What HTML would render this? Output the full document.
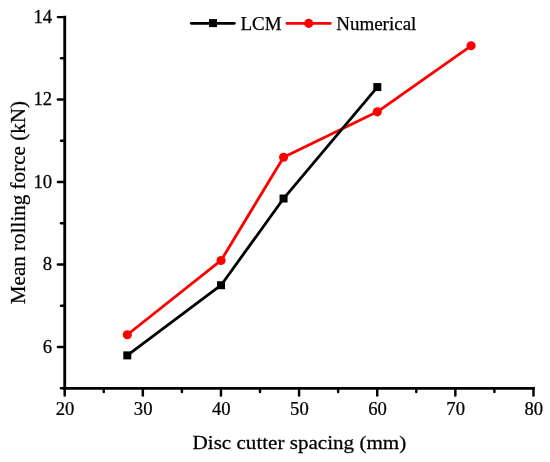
<!DOCTYPE html>
<html><head><meta charset="utf-8"><title>chart</title>
<style>
html,body{margin:0;padding:0;background:#fff;}
svg{display:block;}
text{font-family:"Liberation Serif","Times New Roman",serif;fill:#000;stroke:#000;stroke-width:0.25px;}
</style></head><body>
<svg width="550" height="462" viewBox="0 0 550 462">
<rect width="550" height="462" fill="#fff"/>

<g stroke="#000" stroke-width="2.85" fill="none" stroke-linecap="butt">
<line x1="64.72" y1="15.8" x2="64.72" y2="389.725"/>
<line x1="63.295" y1="388.3" x2="534.78" y2="388.3"/>
</g>
<g stroke="#000" stroke-width="2.45" fill="none" stroke-linecap="round">
<line x1="61.0" y1="388.31" x2="64.72" y2="388.31"/>
<line x1="57.9" y1="347.06" x2="64.72" y2="347.06"/>
<line x1="61.0" y1="305.81" x2="64.72" y2="305.81"/>
<line x1="57.9" y1="264.57" x2="64.72" y2="264.57"/>
<line x1="61.0" y1="223.32" x2="64.72" y2="223.32"/>
<line x1="57.9" y1="182.08" x2="64.72" y2="182.08"/>
<line x1="61.0" y1="140.83" x2="64.72" y2="140.83"/>
<line x1="57.9" y1="99.59" x2="64.72" y2="99.59"/>
<line x1="61.0" y1="58.34" x2="64.72" y2="58.34"/>
<line x1="57.9" y1="17.10" x2="64.72" y2="17.10"/>
<line x1="64.70" y1="388.3" x2="64.70" y2="395.55"/>
<line x1="103.77" y1="388.3" x2="103.77" y2="391.9"/>
<line x1="142.83" y1="388.3" x2="142.83" y2="395.55"/>
<line x1="181.89" y1="388.3" x2="181.89" y2="391.9"/>
<line x1="220.96" y1="388.3" x2="220.96" y2="395.55"/>
<line x1="260.02" y1="388.3" x2="260.02" y2="391.9"/>
<line x1="299.09" y1="388.3" x2="299.09" y2="395.55"/>
<line x1="338.15" y1="388.3" x2="338.15" y2="391.9"/>
<line x1="377.22" y1="388.3" x2="377.22" y2="395.55"/>
<line x1="416.28" y1="388.3" x2="416.28" y2="391.9"/>
<line x1="455.35" y1="388.3" x2="455.35" y2="395.55"/>
<line x1="494.41" y1="388.3" x2="494.41" y2="391.9"/>
<line x1="533.48" y1="388.3" x2="533.48" y2="395.55"/>
</g>
<g font-size="19.2">
<text transform="translate(52.2,352.76) scale(0.975,1)" text-anchor="end">6</text>
<text transform="translate(52.2,270.27) scale(0.975,1)" text-anchor="end">8</text>
<text transform="translate(52.2,187.78) scale(0.975,1)" text-anchor="end">10</text>
<text transform="translate(52.2,105.29) scale(0.975,1)" text-anchor="end">12</text>
<text transform="translate(52.2,22.80) scale(0.975,1)" text-anchor="end">14</text>
<text transform="translate(65.00,415.1) scale(0.972,1)" text-anchor="middle">20</text>
<text transform="translate(143.13,415.1) scale(0.972,1)" text-anchor="middle">30</text>
<text transform="translate(221.26,415.1) scale(0.972,1)" text-anchor="middle">40</text>
<text transform="translate(299.39,415.1) scale(0.972,1)" text-anchor="middle">50</text>
<text transform="translate(377.52,415.1) scale(0.972,1)" text-anchor="middle">60</text>
<text transform="translate(455.65,415.1) scale(0.972,1)" text-anchor="middle">70</text>
<text transform="translate(533.78,415.1) scale(0.972,1)" text-anchor="middle">80</text>
</g>
<text transform="translate(299.4,448.65) scale(1.082,1)" font-size="19.5" text-anchor="middle">Disc cutter spacing (mm)</text>
<text transform="translate(24.7,202.6) rotate(-90) scale(0.990,1)" font-size="21.3" text-anchor="middle">Mean rolling force (kN)</text>
<polyline points="127.30,334.76 221.06,260.45 283.56,157.25 377.32,111.84 471.08,45.80" fill="none" stroke="#f00" stroke-width="2.8" stroke-linejoin="round"/>
<circle cx="127.30" cy="334.76" r="4.55" fill="#f00"/>
<circle cx="221.06" cy="260.45" r="4.55" fill="#f00"/>
<circle cx="283.56" cy="157.25" r="4.55" fill="#f00"/>
<circle cx="377.32" cy="111.84" r="4.55" fill="#f00"/>
<circle cx="471.08" cy="45.80" r="4.55" fill="#f00"/>
<polyline points="127.30,355.40 221.06,285.22 283.56,198.53 377.32,87.08" fill="none" stroke="#000" stroke-width="2.8" stroke-linejoin="round"/>
<rect x="123.30" y="351.40" width="8" height="8" fill="#000"/>
<rect x="217.06" y="281.22" width="8" height="8" fill="#000"/>
<rect x="279.56" y="194.53" width="8" height="8" fill="#000"/>
<rect x="373.32" y="83.08" width="8" height="8" fill="#000"/>
<line x1="191.3" y1="23.3" x2="234.3" y2="23.3" stroke="#000" stroke-width="2.8" stroke-linecap="round"/>
<rect x="209.0" y="19.1" width="8" height="8" fill="#000"/>
<text x="240.4" y="29.85" font-size="19">LCM</text>
<line x1="287.0" y1="23.4" x2="330.3" y2="23.4" stroke="#f00" stroke-width="2.8" stroke-linecap="round"/>
<circle cx="308.7" cy="23.4" r="4.55" fill="#f00"/>
<text x="336.2" y="29.85" font-size="19">Numerical</text>
</svg></body></html>
